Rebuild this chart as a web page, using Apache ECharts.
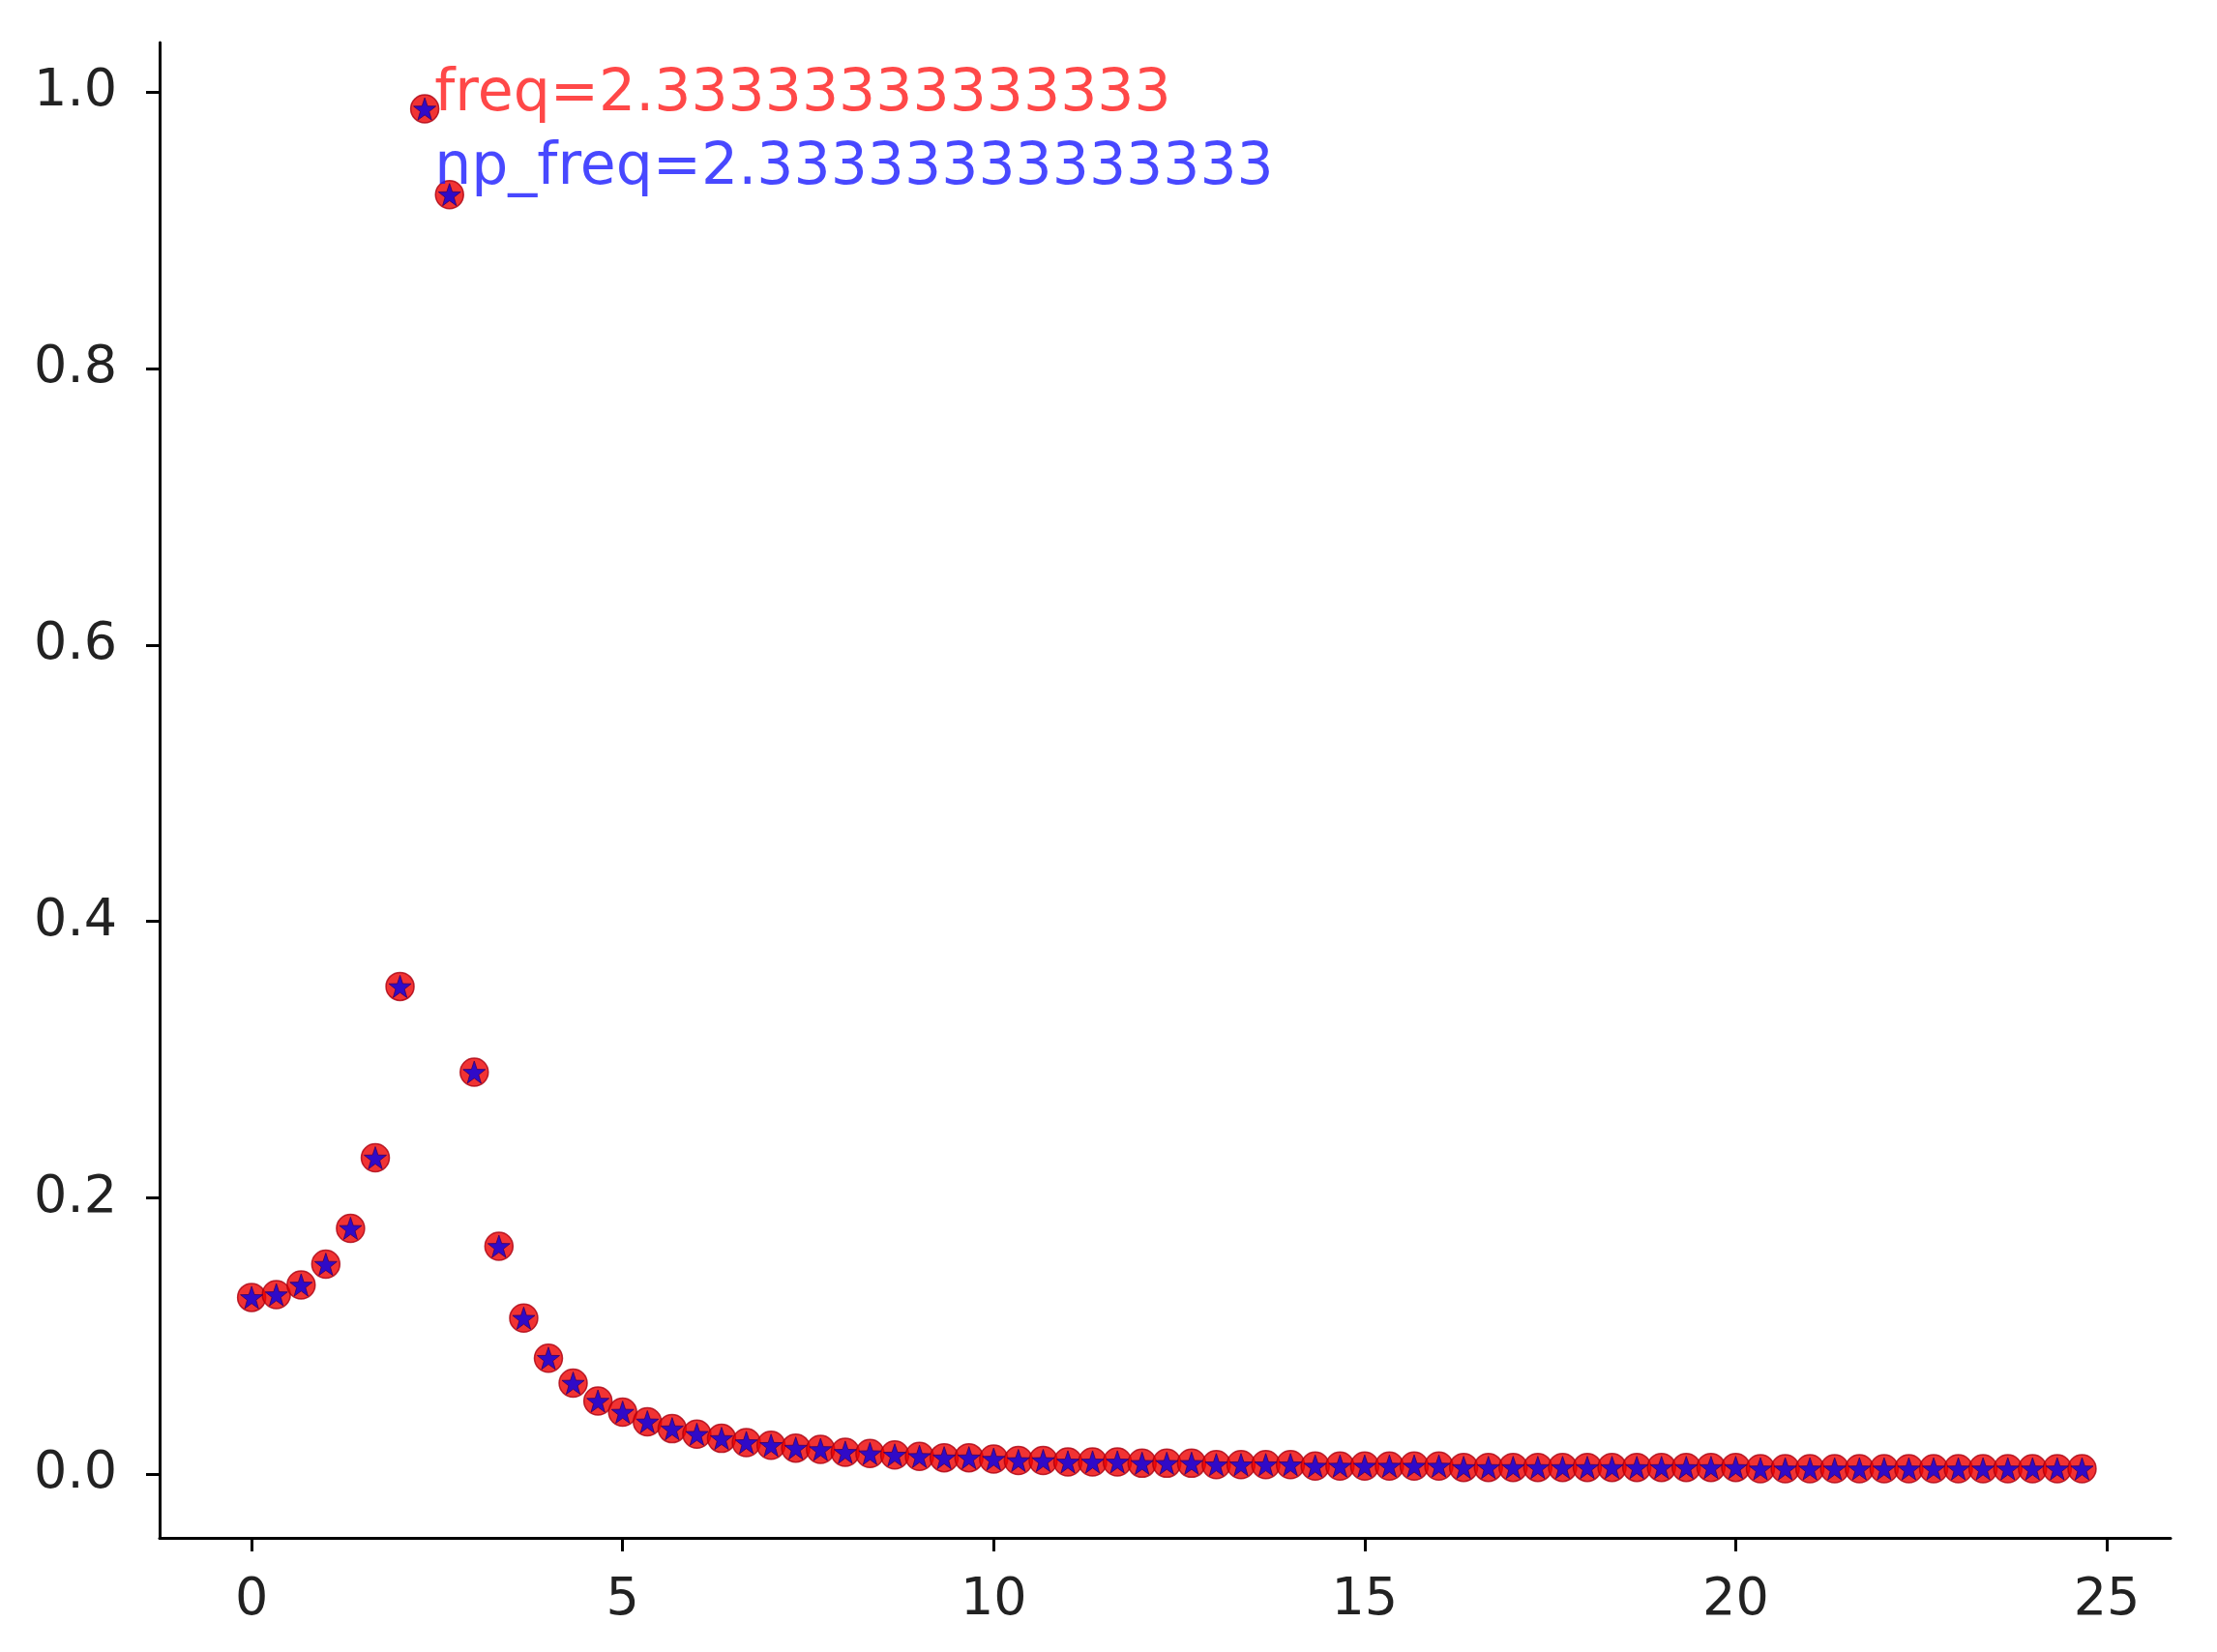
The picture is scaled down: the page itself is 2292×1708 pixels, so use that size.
<!DOCTYPE html>
<html><head><meta charset="utf-8">
<script src="https://cdn.jsdelivr.net/npm/echarts@6/dist/echarts.min.js"></script>
<style>html,body{margin:0;padding:0;background:#fff}#c{width:2292px;height:1708px}</style>
</head><body><div id="c"></div>
<script>
const xs = [0,0.333,0.667,1,1.333,1.667,2,2.333,2.667,3,3.333,3.667,4,4.333,4.667,5,5.333,5.667,6,6.333,6.667,7,7.333,7.667,8,8.333,8.667,9,9.333,9.667,10,10.333,10.667,11,11.333,11.667,12,12.333,12.667,13,13.333,13.667,14,14.333,14.667,15,15.333,15.667,16,16.333,16.667,17,17.333,17.667,18,18.333,18.667,19,19.333,19.667,20,20.333,20.667,21,21.333,21.667,22,22.333,22.667,23,23.333,23.667,24,24.333,24.667];
const fftAmp = [0.128,0.130,0.137,0.152,0.178,0.229,0.353,0.988,0.926,0.291,0.165,0.113,0.084,0.066,0.053,0.045,0.038,0.033,0.029,0.026,0.023,0.021,0.019,0.018,0.016,0.015,0.014,0.013,0.012,0.012,0.011,0.010,0.010,0.009,0.009,0.009,0.008,0.008,0.008,0.007,0.007,0.007,0.007,0.006,0.006,0.006,0.006,0.006,0.006,0.005,0.005,0.005,0.005,0.005,0.005,0.005,0.005,0.005,0.005,0.005,0.005,0.004,0.004,0.004,0.004,0.004,0.004,0.004,0.004,0.004,0.004,0.004,0.004,0.004,0.004];
const npAmp = fftAmp.slice();
const annotations = [
  {text:'freq=2.33333333333333', x:2.4, y:0.983, color:'#ff1a1a'},
  {text:'np_freq=2.33333333333333', x:2.4, y:0.930, color:'#1a1aff'}
];
const xTicks = [0,5,10,15,20,25];
const yTicks = [0,0.2,0.4,0.6,0.8,1.0];
const font = 'DejaVu Sans';
const chart = echarts.init(document.getElementById('c'));
chart.setOption({
  backgroundColor:'#fff',
  animation:false,
  grid:{left:165,right:48,top:44,bottom:118},
  xAxis:{type:'value',min:-1.24,max:25.86,
    axisLine:{onZero:false,lineStyle:{color:'#000',width:3}},
    axisTick:{length:14,lineStyle:{color:'#000',width:3},customValues:xTicks},
    axisLabel:{fontFamily:font,fontSize:54,color:'#222',margin:38,customValues:xTicks,formatter:v=>String(v)},
    splitLine:{show:false}},
  yAxis:{type:'value',min:-0.046,max:1.036,
    axisLine:{show:true,onZero:false,lineStyle:{color:'#000',width:3}},
    axisTick:{show:true,length:14,lineStyle:{color:'#000',width:3},customValues:yTicks},
    axisLabel:{fontFamily:font,fontSize:54,color:'#222',margin:44,customValues:yTicks,formatter:v=>v.toFixed(1)},
    splitLine:{show:false}},
  series:[
    {type:'scatter',data:xs.map((x,i)=>[x,fftAmp[i]]),symbol:'circle',symbolSize:29,
      itemStyle:{color:'#ee0000',borderColor:'#aa0010',borderWidth:1.5},z:2},
    {type:'scatter',data:xs.map((x,i)=>[x,npAmp[i]]),symbol:'path://M0,-10L2.35,-3.24L9.51,-3.09L3.8,1.24L5.88,8.09L0,4L-5.88,8.09L-3.8,1.24L-9.51,-3.09L-2.35,-3.24Z',symbolSize:23,
      itemStyle:{color:'#0000ee',borderColor:'#3a0060',borderWidth:1},z:3},
    {type:'scatter',symbolSize:0,z:4,silent:true,
      data:annotations.map(a=>({value:[a.x,a.y],label:{show:true,position:'insideBottomLeft',formatter:a.text,color:a.color,fontFamily:font,fontSize:60,align:'left',verticalAlign:'bottom',offset:[0,14]}}))}
  ]
});
</script></body></html>
